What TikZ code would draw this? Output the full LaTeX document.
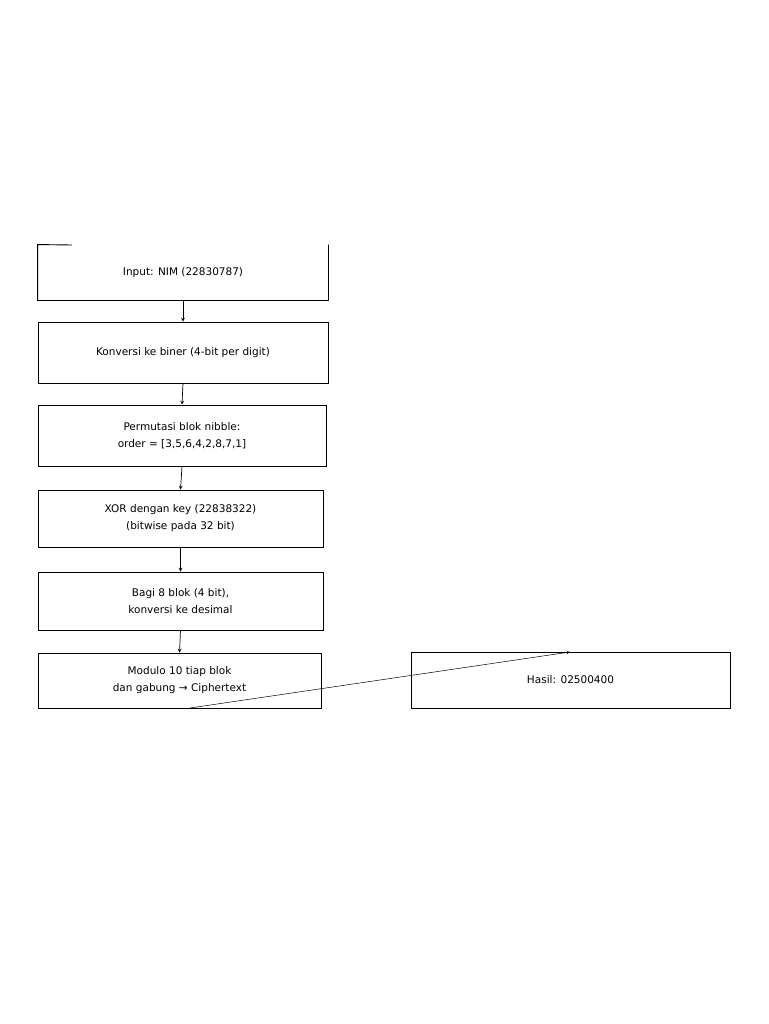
\documentclass[tikz,border=0pt]{standalone}
\usepackage{fontspec}
\setmainfont{DejaVu Sans}
\begin{document}
\begin{tikzpicture}[x=1pt,y=-1pt,
  stepbox/.style={draw, line width=0.9pt, align=center, inner sep=0pt,
    font=\fontsize{10.5}{17}\selectfont},
  flow/.style={->, >=stealth, line width=0.7pt}]
  \useasboundingbox (0,0) rectangle (768,1024);

  \node[stepbox, draw=none, minimum width=290, minimum height=55] (nim) at (183,272.5) {Input: NIM (22830787)};
  \draw[line width=0.9pt] (72,245) -- (nim.north west) -- (nim.south west) -- (nim.south east) -- (nim.north east);
  \node[stepbox, minimum width=290, minimum height=61] (biner) at (183,352.5) {Konversi ke biner (4-bit per digit)};
  \node[stepbox, minimum width=288, minimum height=61] (perm) at (182,435.5) {Permutasi blok nibble:\\order = [3,5,6,4,2,8,7,1]};
  \node[stepbox, minimum width=285, minimum height=57] (xor) at (180.5,518.5) {XOR dengan key (22838322)\\(bitwise pada 32 bit)};
  \node[stepbox, minimum width=285, minimum height=58] (bagi) at (180.5,601) {Bagi 8 blok (4 bit),\\konversi ke desimal};
  \node[stepbox, minimum width=283, minimum height=55] (mod) at (179.5,680.5) {Modulo 10 tiap blok\\dan gabung → Ciphertext};
  \node[stepbox, minimum width=319, minimum height=56] (hasil) at (570.5,680) {Hasil: 02500400};

  \draw[flow] (nim.south) -- (biner.north);
  \draw[flow] (biner.south) -- (perm.north);
  \draw[flow] (perm.south) -- (xor.north);
  \draw[flow] (xor.south) -- (bagi.north);
  \draw[flow] (bagi.south) -- (mod.north);
  \coordinate (tail) at (190,708);
  \coordinate (head) at (570,652);
  \draw[flow, line width=0.5pt] (tail) -- (head);
\end{tikzpicture}
\end{document}
